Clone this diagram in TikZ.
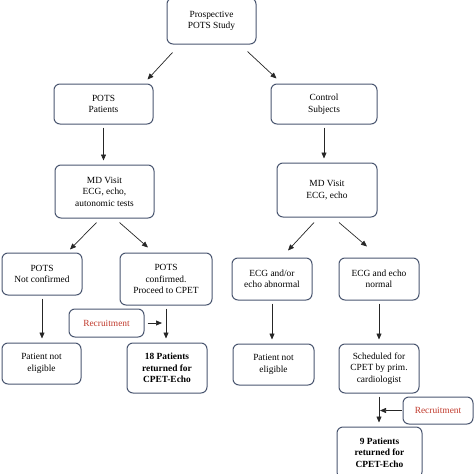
\documentclass[tikz,border=0pt]{standalone}
\usepackage{fontspec}
\setmainfont{Liberation Serif}
\usetikzlibrary{arrows.meta, positioning, calc}
\definecolor{boxc}{HTML}{4A5670}
\definecolor{recc}{HTML}{C0392B}

\begin{document}
\begin{tikzpicture}[x=1pt, y=-1pt, >={Triangle[length=6pt, width=5pt]},
          line width=0.7pt, font=\fontsize{9.4}{11.5}\selectfont,
          box/.style={draw=boxc, line width=1pt, rounded corners=6pt,
            align=center, inner sep=1pt},
          arr/.style={->, black!85}]
        \useasboundingbox (0,0) rectangle (474,474);
        % top and second row
        \node[box, minimum width=89pt, minimum height=46pt] (study) at (211.5,21)
              {Prospective\\POTS Study};
        \node[box, minimum width=99pt, minimum height=40pt] (pots) at (103.5,104)
              {POTS\\Patients};
        \node[box, minimum width=106pt, minimum height=40pt] (ctrl) at (324,104)
              {Control\\Subjects};
        \node[box, minimum width=99pt, minimum height=53pt] (mdl) at (104.5,191.5)
              {MD Visit\\ECG, echo,\\autonomic tests};
        \node[box, minimum width=100pt, minimum height=54pt] (mdr) at (327,190)
              {MD Visit\\ECG, echo};
        % third row
        \node[box, minimum width=80pt, minimum height=42pt] (notconf) at (42,274)
              {POTS\\Not confirmed};
        \node[box, minimum width=92pt, minimum height=52pt] (conf) at (166,279)
              {POTS\\confirmed.\\Proceed to CPET};
        \node[box, minimum width=80pt, minimum height=42pt] (abn) at (272,279)
              {ECG and/or\\echo abnormal};
        \node[box, minimum width=80pt, minimum height=42pt] (norm) at (379,279)
              {ECG and echo\\normal};
        % fourth row
        \node[box, minimum width=79pt, minimum height=41pt] (inel1) at (41.5,363.5)
              {Patient not\\eligible};
        \node[box, minimum width=75pt, minimum height=28pt, text=recc] (recr1)
              at (106.5,323) {Recruitment};
        \node[box, minimum width=80pt, minimum height=50pt, font=\fontsize{9.4}{11.5}\selectfont\bfseries]
              (pts18) at (167,368) {18 Patients\\returned for\\CPET-Echo};
        \node[box, minimum width=81pt, minimum height=41pt] (inel2) at (273.5,364.5)
              {Patient not\\eligible};
        \node[box, minimum width=80pt, minimum height=49pt] (sched) at (379,368.5)
              {Scheduled for\\CPET by prim.\\cardiologist};
        \node[box, minimum width=70pt, minimum height=27pt, text=recc] (recr2)
              at (438,410.5) {Recruitment};
        \node[box, minimum width=85pt, minimum height=51pt, font=\fontsize{9.4}{11.5}\selectfont\bfseries]
              (pts9) at (379.5,452.5) {9 Patients\\returned for\\CPET-Echo};

        % slanted arrows
        \draw[arr] ([xshift=6pt, yshift=-8pt]study.south west)
              -- ([xshift=-6pt, yshift=4pt]pots.north east);
        \draw[arr] ([xshift=-9pt, yshift=-7pt]study.south east)
              -- ([xshift=6pt, yshift=5pt]ctrl.north west);
        \draw[arr] ([xshift=-8pt, yshift=-4pt]mdl.south)
              -- ([xshift=28pt, yshift=3pt]notconf.north);
        \draw[arr] ([xshift=15pt, yshift=-4pt]mdl.south)
              -- ([xshift=-18pt, yshift=5pt]conf.north);
        \draw[arr] ([xshift=-13pt, yshift=-5pt]mdr.south)
              -- ([xshift=16pt, yshift=7pt]abn.north);
        \draw[arr] ([xshift=12pt, yshift=-5pt]mdr.south)
              -- ([xshift=-12pt, yshift=11pt]norm.north);
        % straight arrows
        \foreach \a/\b in {pots/mdl, ctrl/mdr, notconf/inel1, conf/pts18,
                           abn/inel2, norm/sched, sched/pts9}{
          \draw[arr, shorten <=3pt, shorten >=4pt] (\a.south) -- (\a.south |- \b.north);
        }
        \draw[arr, shorten <=3pt] (recr1.east) -- ([xshift=-4pt]conf.south |- recr1.east);
        \draw[arr, shorten <=1pt] (recr2.west) -- ([xshift=1pt]sched.south |- recr2.west);
      \end{tikzpicture}
\end{document}
